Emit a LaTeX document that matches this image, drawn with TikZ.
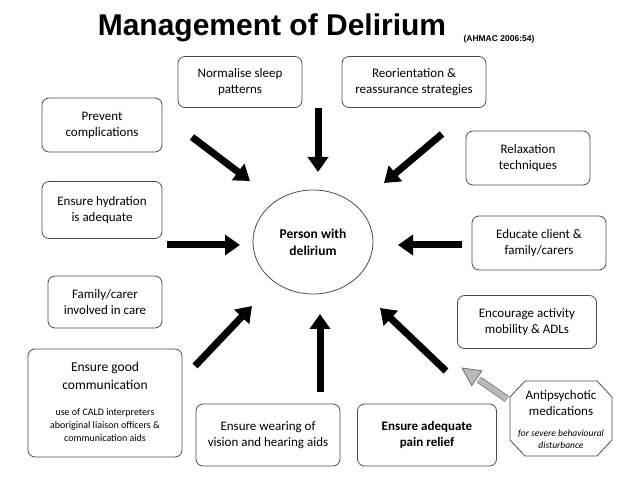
\documentclass[tikz,border=0pt]{standalone}
\usepackage{fontspec}
\setmainfont{Carlito}
\newfontfamily\titlefont{Liberation Sans}
\usetikzlibrary{arrows.meta,shapes.geometric,calc}
\begin{document}
\begin{tikzpicture}[x=1pt,y=-1pt,
  box/.style={draw=black!70,line width=0.8pt,rounded corners=7pt,align=center,font=\fontsize{13}{16}\selectfont,inner sep=2pt},
  big/.style={line width=7pt,-{Triangle[width=20pt,length=15pt]}},
]
\useasboundingbox (0,0) rectangle (638,478);
\node (title) [font=\titlefont\bfseries\fontsize{30}{32}\selectfont] at (272,28) {Management of Delirium};
\node (src) [font=\titlefont\bfseries\fontsize{8.5}{10}\selectfont,anchor=west] at (460,39) {(AHMAC 2006:54)};
\node (p) [draw=black!70,line width=0.8pt,ellipse,minimum width=120pt,minimum height=104pt,align=center,font=\bfseries\fontsize{13.5}{17}\selectfont] at (313,242) {Person with\\delirium};
\node (a) [box,minimum width=124pt,minimum height=51pt] at (240,82) {Normalise sleep\\patterns};
\node (b) [box,minimum width=144pt,minimum height=51pt] at (414,82) {Reorientation \&\\reassurance strategies};
\node (c) [box,minimum width=120pt,minimum height=54pt] at (102,125) {Prevent\\complications};
\node (d) [box,minimum width=124pt,minimum height=54pt] at (528,158) {Relaxation\\techniques};
\node (e) [box,minimum width=120pt,minimum height=57pt] at (102,210) {Ensure hydration\\is adequate};
\node (f) [box,minimum width=134pt,minimum height=54pt] at (539,243) {Educate client \&\\family/carers};
\node (g) [box,minimum width=114pt,minimum height=52pt] at (105,302) {Family/carer\\involved in care};
\node (h) [box,minimum width=139pt,minimum height=53pt] at (527,322) {Encourage activity\\mobility \& ADLs};
\node (i) [box,minimum width=154pt,minimum height=108pt] at (105,403) {};
\node (i1) [align=center,font=\fontsize{13.5}{18}\selectfont] at (105,376) {Ensure good\\communication};
\node (i2) [align=center,font=\fontsize{10}{13}\selectfont] at (105,425) {use of CALD interpreters\\aboriginal liaison officers \&\\communication aids};
\node (j) [box,minimum width=144pt,minimum height=62pt] at (268,435) {Ensure wearing of\\vision and hearing aids};
\node (k) [box,minimum width=139pt,minimum height=62pt,font=\bfseries\fontsize{13}{16}\selectfont] at (427,435) {Ensure adequate\\pain relief};
\draw[black!70,line width=0.8pt] (525,381) -- (597,381) -- (612,397) -- (612,440) -- (597,456) -- (525,456) -- (510,440) -- (510,397) -- cycle;
\node (l1) [align=center,font=\fontsize{13}{16}\selectfont] at (561,403) {Antipsychotic\\medications};
\node (l2) [align=center,font=\itshape\fontsize{9.5}{12}\selectfont] at (561,439) {for severe behavioural\\disturbance};
\coordinate (ca) at (192,137); \coordinate (pa) at (250,181);
\coordinate (aa) at (318,108); \coordinate (pb) at (318,172);
\coordinate (ba) at (442,134); \coordinate (pc) at (384,183);
\coordinate (ea) at (167,245); \coordinate (pd) at (240,245);
\coordinate (fa) at (462,245); \coordinate (pe) at (398,245);
\coordinate (ia) at (195,366); \coordinate (pf) at (252,306);
\coordinate (ja) at (320,392); \coordinate (pg) at (320,314);
\coordinate (ka) at (446,371); \coordinate (ph) at (380,308);
\draw[big] (ca) -- (pa);
\draw[big] (aa) -- (pb);
\draw[big] (ba) -- (pc);
\draw[big] (ea) -- (pd);
\draw[big] (fa) -- (pe);
\draw[big] (ia) -- (pf);
\draw[big] (ja) -- (pg);
\draw[big] (ka) -- (ph);
\coordinate (la) at (507,399); \coordinate (lb) at (462,368);
\draw[line width=7pt,black!55] (la) -- ($(la)!0.62!(lb)$);
\draw[line width=5.5pt,black!28,shorten >=0.5pt] (la) -- ($(la)!0.64!(lb)$);
\fill[black!28,draw=black!55,line width=0.8pt] (lb) -- ($(lb)!18pt!(la)!9pt!90:(la)$) -- ($(lb)!18pt!(la)!9pt!-90:(la)$) -- cycle;
\end{tikzpicture}
\end{document}
